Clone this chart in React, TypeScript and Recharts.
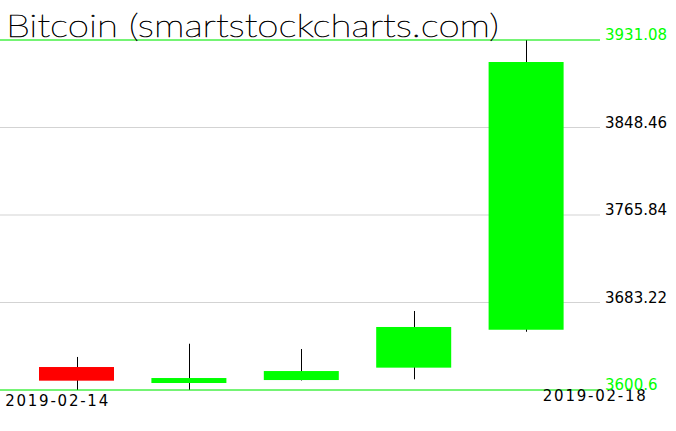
import { Bar, CartesianGrid, ComposedChart, ReferenceLine, XAxis, YAxis } from "recharts";

const dates = ["2019-02-14", "2019-02-15", "2019-02-16", "2019-02-17", "2019-02-18"];
const opens = [3622.3, 3607.2, 3610.0, 3621.7, 3657.5];
const closes = [3609.4, 3611.9, 3618.5, 3660.1, 3910.3];
const highs = [3631.8, 3644.3, 3639.3, 3675.2, 3931.08];
const lows = [3600.6, 3600.6, 3609.6, 3610.7, 3655.6];
const priceTicks = [3600.6, 3683.22, 3765.84, 3848.46, 3931.08];
const shownDates = ["2019-02-14", "2019-02-18"];

const UP = "#00ff00";
const DOWN = "#ff0000";
const FONT = "'DejaVu Sans', sans-serif";

const data = dates.map((date, i) => ({
  date,
  open: opens[i],
  close: closes[i],
  high: highs[i],
  low: lows[i],
  range: [lows[i], highs[i]],
}));

function Candle(props: any) {
  const { x, y, width, height, payload } = props;
  const { open, close, high, low } = payload;
  const perUnit = height / (high - low || 1);
  const top = y + (high - Math.max(open, close)) * perUnit;
  const bottom = y + (high - Math.min(open, close)) * perUnit;
  const cx = Math.round(x + width / 2) + 0.5;
  return (
    <g>
      <line x1={cx} x2={cx} y1={y} y2={y + height} stroke="#000" strokeWidth={1} />
      <rect x={x} y={top} width={width} height={Math.max(bottom - top, 1)} fill={close >= open ? UP : DOWN} />
    </g>
  );
}

function PriceTick(props: any) {
  const { x, y, payload } = props;
  const edge = payload.value === priceTicks[0] || payload.value === priceTicks[priceTicks.length - 1];
  return (
    <text x={x - 3} y={y} fontFamily={FONT} fontSize={15} fill={edge ? UP : "#000"}>
      {payload.value}
    </text>
  );
}

function DateTick(props: any) {
  const { x, payload } = props;
  if (!shownDates.includes(payload.value)) return <g />;
  const first = payload.value === shownDates[0];
  return (
    <text
      x={first ? x - 71 : x + 120}
      y={first ? 406 : 401}
      fontFamily={FONT}
      fontSize={15}
      fill="#000"
      textAnchor={first ? "start" : "end"}
      textLength={103}
      lengthAdjust="spacing"
    >
      {payload.value}
    </text>
  );
}

export default function App() {
  return (
    <div style={{ position: "absolute", left: 0, top: 0, width: 676, height: 431, background: "#fff" }}>
      <ComposedChart width={676} height={431} data={data} margin={{ top: 40, right: 0, bottom: 21, left: 0 }}>
        <CartesianGrid horizontal vertical={false} stroke="#d3d3d3" />
        <XAxis
          dataKey="date"
          padding={{ left: 20, right: 18 }}
          axisLine={false}
          tickLine={false}
          interval={0}
          height={20}
          tick={<DateTick />}
        />
        <YAxis
          orientation="right"
          width={76}
          domain={[priceTicks[0], priceTicks[priceTicks.length - 1]]}
          ticks={priceTicks}
          axisLine={false}
          tickLine={false}
          tick={<PriceTick />}
        />
        <ReferenceLine y={priceTicks[priceTicks.length - 1]} stroke={UP} strokeWidth={1} />
        <ReferenceLine y={priceTicks[0]} stroke={UP} strokeWidth={1} />
        <Bar dataKey="range" barSize={75} shape={<Candle />} isAnimationActive={false} />
      </ComposedChart>
      <svg width={676} height={60} style={{ position: "absolute", left: 0, top: 0, pointerEvents: "none" }}>
        <text
          x={6}
          y={37}
          fontFamily="Lato, Roboto, 'DejaVu Sans', sans-serif"
          fontWeight={100}
          fontSize={31}
          fill="#000"
          stroke="#000"
          strokeWidth={0.6}
          textLength={493}
          lengthAdjust="spacingAndGlyphs"
        >
          Bitcoin (smartstockcharts.com)
        </text>
      </svg>
    </div>
  );
}
